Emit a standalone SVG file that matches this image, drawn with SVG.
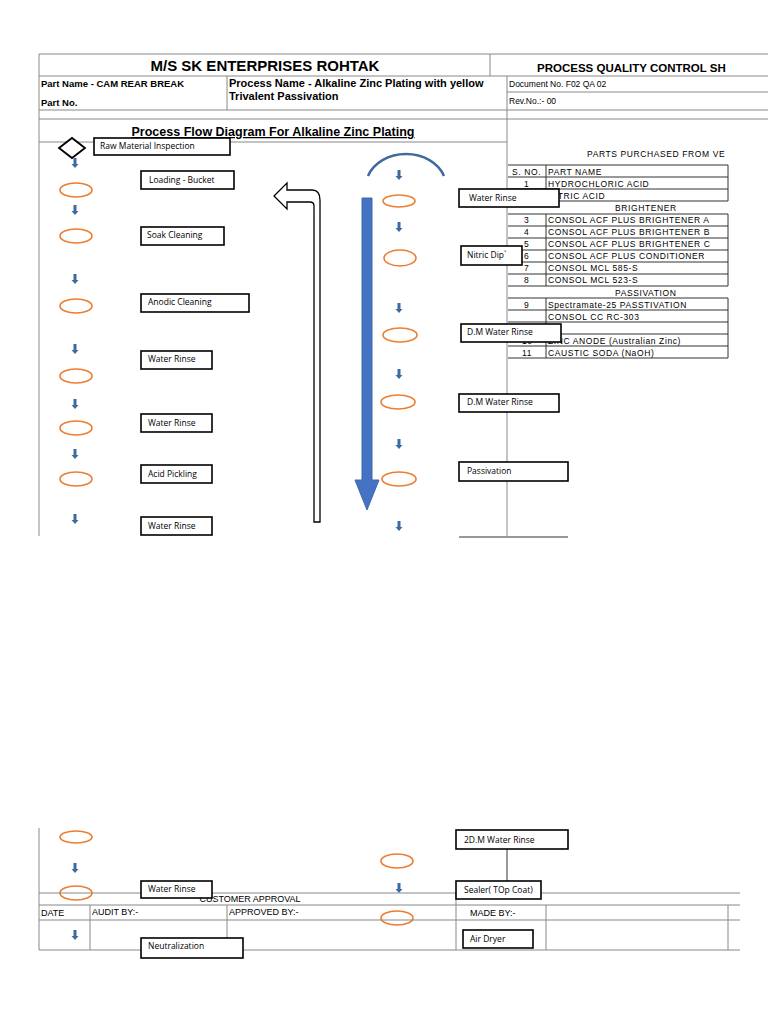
<svg xmlns="http://www.w3.org/2000/svg" width="768" height="1024" viewBox="0 0 768 1024">
<defs>
<style>
.g{stroke:#888;stroke-width:1;fill:none}
.k{stroke:#333;stroke-width:1;fill:none}
.b{fill:#fff;stroke:#000;stroke-width:1.6}
.e{fill:none;stroke:#ED7D31;stroke-width:1.6}
.t{font-family:"Liberation Sans",Arial,sans-serif;fill:#000}
.s{font-family:"Open Sans","Liberation Sans",sans-serif;font-size:8.5px;fill:#000}
.tb{font-family:"Liberation Sans",Arial,sans-serif;font-size:8.5px;fill:#000;letter-spacing:0.6px}
.h{font-family:"Liberation Sans",Arial,sans-serif;font-weight:bold;fill:#000}
</style>
<g id="da"><rect x="-1.5" y="-6" width="3" height="7" fill="#3F6AA0"/><path d="M-3.5 0 L3.5 0 L0 4 Z" fill="#3F6AA0"/></g>
</defs>
<rect width="768" height="1024" fill="#fff"/>
<g id="header">
<path class="g" d="M39 54 H768 M39 76 H768 M39 110 H768 M39 119 H768 M507 92 H768 M39 142 H507 M39 54 V536 M490 54 V76 M227 76 V110 M507 76 V536"/>
<text class="h" x="265" y="71" font-size="15" text-anchor="middle">M/S SK ENTERPRISES ROHTAK</text>
<text class="h" x="537" y="72" font-size="11.5">PROCESS QUALITY CONTROL SH</text>
<text class="h" x="41" y="87" font-size="9.5">Part Name - CAM REAR BREAK</text>
<text class="h" x="41" y="106" font-size="9.5">Part No.</text>
<text class="h" x="229" y="87" font-size="11">Process Name - Alkaline Zinc Plating with yellow</text>
<text class="h" x="229" y="100" font-size="11">Trivalent Passivation</text>
<text class="t" x="509" y="87" font-size="8.5">Document No.  F02 QA 02</text>
<text class="t" x="509" y="104" font-size="8.5">Rev.No.:- 00</text>
<text class="h" x="273" y="136" font-size="12.5" text-anchor="middle" text-decoration="underline">Process Flow Diagram For Alkaline Zinc Plating</text>
</g>
<g id="parts-table">
<text class="tb" x="587" y="157">PARTS PURCHASED FROM VE</text>
<path class="k" d="M508 165 H728 M508 177 H728 M508 189 H728 M508 201 H728 M508 214 H728 M508 226 H728 M508 238 H728 M508 250 H728 M508 262 H728 M508 274 H728 M508 286 H728 M508 298 H728 M508 310 H728 M508 322 H728 M508 334 H728 M508 346 H728 M508 358 H728 M546 165 V201 M546 214 V286 M546 298 V358 M728 165 V201 M728 214 V286 M728 298 V358"/>
<g class="tb"><text x="512" y="175">S. NO.</text><text x="548" y="175">PART NAME</text>
<text x="524" y="187">1</text><text x="548" y="187">HYDROCHLORIC ACID</text>
<text x="548" y="199">NITRIC ACID</text>
<text x="615" y="211">BRIGHTENER</text>
<text x="524" y="223">3</text><text x="548" y="223">CONSOL ACF PLUS BRIGHTENER A</text>
<text x="524" y="235">4</text><text x="548" y="235">CONSOL ACF PLUS BRIGHTENER B</text>
<text x="524" y="247">5</text><text x="548" y="247">CONSOL ACF PLUS BRIGHTENER C</text>
<text x="524" y="259">6</text><text x="548" y="259">CONSOL ACF PLUS CONDITIONER</text>
<text x="524" y="271">7</text><text x="548" y="271">CONSOL MCL 585-S</text>
<text x="524" y="283">8</text><text x="548" y="283">CONSOL MCL 523-S</text>
<text x="615" y="296">PASSIVATION</text>
<text x="524" y="308">9</text><text x="548" y="308">Spectramate-25 PASSTIVATION</text>
<text x="548" y="320">CONSOL CC RC-303</text>
<text x="522" y="344">10</text><text x="548" y="344">ZINC ANODE (Australian Zinc)</text>
<text x="522" y="356">11</text><text x="548" y="356">CAUSTIC SODA (NaOH)</text></g>
</g>
<g id="connectors">
<path d="M368 176 A40 32 0 0 1 444 176" fill="none" stroke="#3F6AA0" stroke-width="2.5"/>
<path d="M362 198 H372 V480 H379 L367 510 L355 480 H362 Z" fill="#4472C4" stroke="#3F6AA0"/>
<path d="M314 522 V206 Q314 202 310 202 H287 V209 L274 196 L287 183 V190 H312 Q320 190 320 200 V522 Z" fill="#fff" stroke="#000" stroke-width="1.3"/>
<path class="k" d="M459 537 H568 M507 849 V881"/>
<use href="#da" x="75" y="164"/><use href="#da" x="75" y="211"/><use href="#da" x="75" y="280"/><use href="#da" x="75" y="350"/><use href="#da" x="75" y="405"/><use href="#da" x="75" y="455"/><use href="#da" x="75" y="520"/>
<use href="#da" x="399" y="176"/><use href="#da" x="399" y="228"/><use href="#da" x="399" y="309"/><use href="#da" x="399" y="375"/><use href="#da" x="399" y="445"/><use href="#da" x="399" y="527"/>
<use href="#da" x="75" y="869"/><use href="#da" x="75" y="936"/><use href="#da" x="399" y="889"/>
</g>
<g id="ellipses">
<ellipse class="e" cx="76" cy="190" rx="16" ry="7"/><ellipse class="e" cx="76" cy="236" rx="16" ry="7"/><ellipse class="e" cx="76" cy="306" rx="16" ry="7"/><ellipse class="e" cx="76" cy="376" rx="16" ry="7"/><ellipse class="e" cx="76" cy="428" rx="16" ry="7"/><ellipse class="e" cx="76" cy="479" rx="16" ry="7"/>
<ellipse class="e" cx="399" cy="201" rx="16" ry="6"/><ellipse class="e" cx="400" cy="258" rx="16" ry="8"/><ellipse class="e" cx="400" cy="335" rx="17" ry="7"/><ellipse class="e" cx="398" cy="402" rx="17" ry="7"/><ellipse class="e" cx="399" cy="479" rx="17" ry="7"/>
<ellipse class="e" cx="76" cy="837" rx="16" ry="6"/><ellipse class="e" cx="76" cy="893" rx="16" ry="7"/><ellipse class="e" cx="397" cy="861" rx="16" ry="7"/><ellipse class="e" cx="397" cy="918" rx="16" ry="7"/>
</g>
<g id="n-raw"><path d="M59 148 L72 138 L85 148 L72 158 Z" fill="#fff" stroke="#000" stroke-width="1.8"/><rect class="b" x="94" y="138" width="136" height="17"/><text class="s" x="100" y="149">Raw Material Inspection</text></g>
<g id="n-load"><rect class="b" x="141" y="171" width="93" height="18"/><text class="s" x="149" y="183">Loading - Bucket</text></g>
<g id="n-soak"><rect class="b" x="141" y="227" width="83" height="18"/><text class="s" x="147" y="238">Soak Cleaning</text></g>
<g id="n-anodic"><rect class="b" x="141" y="294" width="108" height="18"/><text class="s" x="148" y="305">Anodic  Cleaning</text></g>
<g id="n-wr1"><rect class="b" x="141" y="351" width="71" height="18"/><text class="s" x="148" y="362">Water Rinse</text></g>
<g id="n-wr2"><rect class="b" x="141" y="414" width="71" height="18"/><text class="s" x="148" y="426">Water Rinse</text></g>
<g id="n-acid"><rect class="b" x="141" y="465" width="71" height="18"/><text class="s" x="148" y="477">Acid Pickling</text></g>
<g id="n-wr3"><rect class="b" x="141" y="517" width="71" height="18"/><text class="s" x="148" y="529">Water Rinse</text></g>
<g id="n-wr4"><rect class="b" x="459" y="189" width="100" height="18"/><text class="s" x="469" y="201">Water Rinse</text></g>
<g id="n-nitric"><rect class="b" x="461" y="246" width="61" height="19"/><text class="s" x="467" y="258">Nitric Dip`</text></g>
<g id="n-dm1"><rect class="b" x="461" y="324" width="100" height="18"/><text class="s" x="467" y="335">D.M Water Rinse</text></g>
<g id="n-dm2"><rect class="b" x="459" y="394" width="100" height="18"/><text class="s" x="467" y="405">D.M Water Rinse</text></g>
<g id="n-pass"><rect class="b" x="459" y="462" width="109" height="19"/><text class="s" x="467" y="474">Passivation</text></g>
<g id="footer">
<path class="g" d="M39 828 V950 M39 893 H740 M39 905 H740 M39 920 H740 M39 950 H740 M90 905 V950 M227 905 V950 M456 893 V950 M546 905 V950 M728 905 V950"/>
<text class="t" x="250" y="902" font-size="9" text-anchor="middle">CUSTOMER APPROVAL</text>
<text class="t" x="41" y="916" font-size="9">DATE</text>
<text class="t" x="92" y="915" font-size="9">AUDIT BY:-</text>
<text class="t" x="229" y="915" font-size="9">APPROVED BY:-</text>
<text class="t" x="470" y="916" font-size="9">MADE BY:-</text>
</g>
<g id="n-wr5"><rect class="b" x="141" y="881" width="71" height="17"/><text class="s" x="148" y="892">Water Rinse</text></g>
<g id="n-neut"><rect class="b" x="141" y="938" width="102" height="20"/><text class="s" x="148" y="949">Neutralization</text></g>
<g id="n-dm3"><rect class="b" x="456" y="830" width="112" height="19"/><text class="s" x="464" y="843">2D.M Water Rinse</text></g>
<g id="n-sealer"><rect class="b" x="456" y="881" width="85" height="18"/><text class="s" x="464" y="893">Sealer( TOp Coat)</text></g>
<g id="n-air"><rect class="b" x="463" y="930" width="70" height="18"/><text class="s" x="470" y="942">Air Dryer</text></g>
</svg>
